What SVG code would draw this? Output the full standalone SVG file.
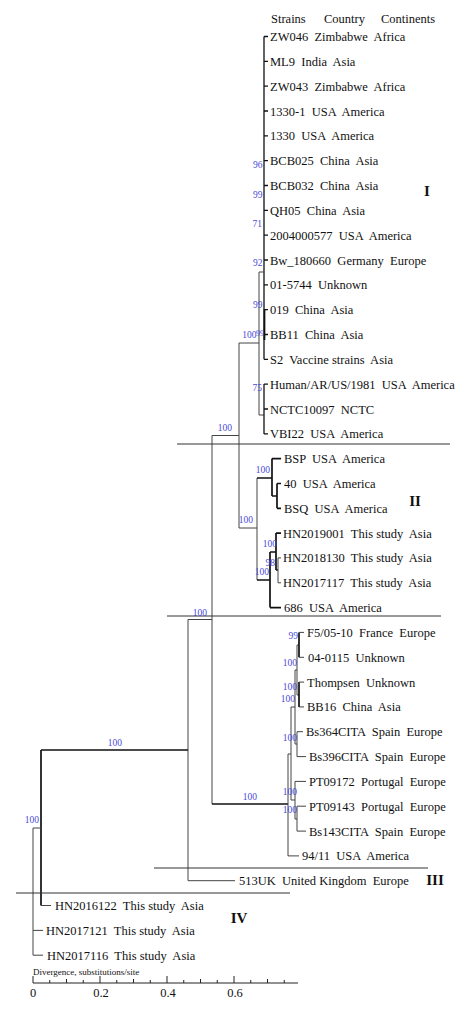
<svg xmlns="http://www.w3.org/2000/svg" width="474" height="1017" viewBox="0 0 474 1017" xml:space="preserve">
<style>
.lb{font-family:"Liberation Serif","Times New Roman",serif;font-size:12.5px;fill:#111;white-space:pre}
.bs{font-family:"Liberation Serif","Times New Roman",serif;font-size:9.5px;fill:#4a4ad8;text-anchor:end}
.cl{font-family:"Liberation Serif","Times New Roman",serif;font-size:15px;font-weight:bold;fill:#111;text-anchor:middle}
.ax{font-family:"Liberation Serif","Times New Roman",serif;font-size:12.5px;fill:#111;text-anchor:middle}
.br{fill:none;stroke:#444;stroke-width:1}
.md{fill:none;stroke:#111;stroke-width:1.3}
.tk{fill:none;stroke:#111;stroke-width:1.7}
.sep{fill:none;stroke:#333;stroke-width:1}
</style>
<rect width="474" height="1017" fill="#fff"/>
<g id="connectors">
<path class="md" d="M264 36.5V359.3M264 36.5H268M264 61.3H268M264 86.2H268M264 111H268M264 135.8H268M264 160.7H268M264 185.5H268M264 210.3H268M264 235.1H268M264 260H268M264 284.8H268M264 309.6H268M264 334.5H268M264 359.3H268"/>
<path class="tk" d="M264.5 309V340"/>
<path class="br" d="M259 272V415M259 272H264M259 415H264"/>
<path class="md" d="M264 384V434M264 384.1H268M264 409H268M264 433.8H268"/>
<path class="br" d="M239 343H259M239 343V528M212 435.5H239"/>
<path class="br" d="M239 528H257M257 478V580"/>
<path class="tk" d="M257 478H272M272 458.6V496M272 458.6H281M272 496H277M277 483.5V508.3M277 483.5H281M277 508.3H281"/>
<path class="tk" d="M257 580H270M270 552V607.6M270 607.6H281M270 552H276M276 533.1V570M276 533.1H281M276 570H278"/>
<path class="br" d="M278 557.9V582.8M278 557.9H281M278 582.8H281"/>
<path class="br" d="M212 435.5V804M188 619.5H212"/>
<path class="tk" d="M212 804H288"/>
<path class="br" d="M288 754V856M288 855.9H299M288 754H291M291 707V800M291 707H295M291 800H295M295 670V744M295 670H297M295 744H297M297 645V695M297 645H299M297 695H299"/>
<path class="tk" d="M299 632.4V657.3M299 682.1V706.9"/>
<path class="br" d="M299 632.4H304M299 657.3H304M299 682.1H304M299 706.9H304M297 731.7V756.6M297 731.7H303M297 756.6H306M295 781.4V819M295 781.4H306M295 819H297M297 806.2V831.1M297 806.2H306M297 831.1H306"/>
<path class="br" d="M188 619.5V880.7M188 880.7H235"/>
<path class="tk" d="M41 750H188M41 750V905.5"/>
<path class="br" d="M41 905.5H51M33 828H41M33 828V955.2M33 930.4H43M33 955.2H43"/>
</g>
<g id="separators">
<path class="sep" d="M177 444H450M167 616H441M154 868H428M16 893H290"/>
</g>
<g id="header">
<text class="lb" x="271" y="23">Strains</text>
<text class="lb" x="324" y="23">Country</text>
<text class="lb" x="381" y="23">Continents</text>
</g>
<g id="leaf-ZW046"><text class="lb" x="270" y="41">ZW046  Zimbabwe  Africa</text></g>
<g id="leaf-ML9"><text class="lb" x="270" y="65.8">ML9  India  Asia</text></g>
<g id="leaf-ZW043"><text class="lb" x="270" y="90.7">ZW043  Zimbabwe  Africa</text></g>
<g id="leaf-1330-1"><text class="lb" x="270" y="115.5">1330-1  USA  America</text></g>
<g id="leaf-1330"><text class="lb" x="270" y="140.3">1330  USA  America</text></g>
<g id="leaf-BCB025"><text class="lb" x="270" y="165.2">BCB025  China  Asia</text></g>
<g id="leaf-BCB032"><text class="lb" x="270" y="190">BCB032  China  Asia</text></g>
<g id="leaf-QH05"><text class="lb" x="270" y="214.8">QH05  China  Asia</text></g>
<g id="leaf-2004000577"><text class="lb" x="270" y="239.6">2004000577  USA  America</text></g>
<g id="leaf-Bw180660"><text class="lb" x="270" y="264.5">Bw_180660  Germany  Europe</text></g>
<g id="leaf-01-5744"><text class="lb" x="270" y="289.3">01-5744  Unknown</text></g>
<g id="leaf-019"><text class="lb" x="270" y="314.1">019  China  Asia</text></g>
<g id="leaf-BB11"><text class="lb" x="270" y="339">BB11  China  Asia</text></g>
<g id="leaf-S2"><text class="lb" x="270" y="363.8">S2  Vaccine strains  Asia</text></g>
<g id="leaf-Human"><text class="lb" x="270" y="388.6">Human/AR/US/1981  USA  America</text></g>
<g id="leaf-NCTC10097"><text class="lb" x="270" y="413.5">NCTC10097  NCTC</text></g>
<g id="leaf-VBI22"><text class="lb" x="270" y="438.3">VBI22  USA  America</text></g>
<g id="leaf-BSP"><text class="lb" x="284" y="463.1">BSP  USA  America</text></g>
<g id="leaf-40"><text class="lb" x="284" y="488">40  USA  America</text></g>
<g id="leaf-BSQ"><text class="lb" x="284" y="512.8">BSQ  USA  America</text></g>
<g id="leaf-HN2019001"><text class="lb" x="283" y="537.6">HN2019001  This study  Asia</text></g>
<g id="leaf-HN2018130"><text class="lb" x="283" y="562.4">HN2018130  This study  Asia</text></g>
<g id="leaf-HN2017117"><text class="lb" x="283" y="587.3">HN2017117  This study  Asia</text></g>
<g id="leaf-686"><text class="lb" x="284" y="612.1">686  USA  America</text></g>
<g id="leaf-F5"><text class="lb" x="307" y="636.9">F5/05-10  France  Europe</text></g>
<g id="leaf-04-0115"><text class="lb" x="308" y="661.8">04-0115  Unknown</text></g>
<g id="leaf-Thompsen"><text class="lb" x="307" y="686.6">Thompsen  Unknown</text></g>
<g id="leaf-BB16"><text class="lb" x="307" y="711.4">BB16  China  Asia</text></g>
<g id="leaf-Bs364CITA"><text class="lb" x="306" y="736.2">Bs364CITA  Spain  Europe</text></g>
<g id="leaf-Bs396CITA"><text class="lb" x="309" y="761.1">Bs396CITA  Spain  Europe</text></g>
<g id="leaf-PT09172"><text class="lb" x="309" y="785.9">PT09172  Portugal  Europe</text></g>
<g id="leaf-PT09143"><text class="lb" x="309" y="810.7">PT09143  Portugal  Europe</text></g>
<g id="leaf-Bs143CITA"><text class="lb" x="309" y="835.6">Bs143CITA  Spain  Europe</text></g>
<g id="leaf-94-11"><text class="lb" x="302" y="860.4">94/11  USA  America</text></g>
<g id="leaf-513UK"><text class="lb" x="239" y="885.2">513UK  United Kingdom  Europe</text></g>
<g id="leaf-HN2016122"><text class="lb" x="55" y="910">HN2016122  This study  Asia</text></g>
<g id="leaf-HN2017121"><text class="lb" x="46" y="934.9">HN2017121  This study  Asia</text></g>
<g id="leaf-HN2017116"><text class="lb" x="47" y="959.7">HN2017116  This study  Asia</text></g>
<g id="clusters">
<text class="cl" x="427" y="196">I</text>
<text class="cl" x="415" y="506">II</text>
<text class="cl" x="435" y="885">III</text>
<text class="cl" x="239" y="923">IV</text>
</g>
<g id="bootstrap">
<text class="bs" x="262.5" y="167.5">96</text>
<text class="bs" x="262.5" y="197.5">99</text>
<text class="bs" x="262" y="226.5">71</text>
<text class="bs" x="262.5" y="266">92</text>
<text class="bs" x="262.5" y="307.5">99</text>
<text class="bs" x="256.5" y="337.5">100</text>
<text class="bs" x="264" y="336" style="font-size:8px">99</text>
<text class="bs" x="262" y="390.5">75</text>
<text class="bs" x="232" y="430.5">100</text>
<text class="bs" x="270" y="472.5">100</text>
<text class="bs" x="253" y="522.5">100</text>
<text class="bs" x="277" y="546.5">100</text>
<text class="bs" x="275" y="565.5">98</text>
<text class="bs" x="269" y="574.5">100</text>
<text class="bs" x="207" y="615.5">100</text>
<text class="bs" x="298" y="638.5">99</text>
<text class="bs" x="297" y="665.5">100</text>
<text class="bs" x="297" y="689.5">100</text>
<text class="bs" x="295" y="701.5">100</text>
<text class="bs" x="297" y="740.5">100</text>
<text class="bs" x="122" y="745.5">100</text>
<text class="bs" x="297" y="795">100</text>
<text class="bs" x="257" y="799.5">100</text>
<text class="bs" x="297" y="812.5">100</text>
<text class="bs" x="39" y="822.5">100</text>
</g>
<g id="scale">
<text x="33" y="975" style="font-family:'Liberation Serif','Times New Roman',serif;font-size:9px;fill:#111">Divergence, substitutions/site</text>
<path fill="none" stroke="#222" stroke-width="1" d="M33 983H298M33 983V976M100 983V976M167 983V976M234 983V976M49.75 983V980M66.5 983V979M83.25 983V980M116.75 983V980M133.5 983V979M150.25 983V980M183.75 983V980M200.5 983V979M217.25 983V980M250.75 983V980M267.5 983V979M284.25 983V980"/>
<text class="ax" x="33" y="997">0</text>
<text class="ax" x="101" y="997">0.2</text>
<text class="ax" x="168" y="997">0.4</text>
<text class="ax" x="235" y="997">0.6</text>
</g>
</svg>
